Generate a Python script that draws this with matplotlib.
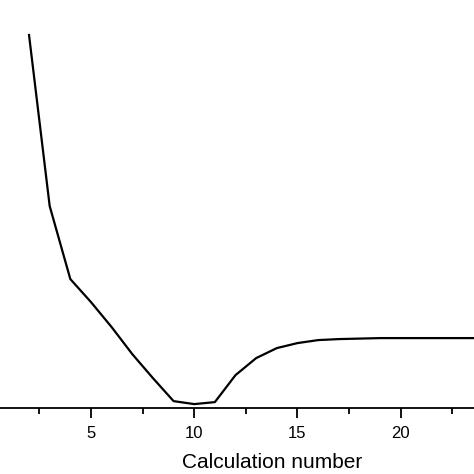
import matplotlib
matplotlib.use("Agg")
import matplotlib.pyplot as plt
from matplotlib.ticker import MultipleLocator

# Data (y in arbitrary units, no y scale shown)
calc_number = [2, 3, 4, 5, 6, 7, 8, 9, 10, 11, 12, 13, 14, 15, 16, 17, 18, 19, 20, 21, 22, 23, 24]
value = [373, 202, 129, 106, 81, 54, 30, 7, 4, 6, 33, 50, 60, 65, 68, 69, 69.5, 70, 70, 70, 70, 70, 70]
major_ticks = [5, 10, 15, 20]

plt.rcParams['font.family'] = ['Liberation Sans', 'DejaVu Sans']

fig = plt.figure(figsize=(4.74, 4.74), dpi=100)
ax = fig.add_axes([0, 0.139, 1, 0.861])

ax.plot(calc_number, value, color='black', lw=1.6)

ax.set_xlim(0.594, 23.55)
ax.set_ylim(0, 408)

ax.set_xticks(major_ticks)
ax.xaxis.set_minor_locator(MultipleLocator(2.5))
ax.tick_params(axis='x', which='major', direction='out', length=7, width=1.3, labelsize=12, pad=6)
ax.tick_params(axis='x', which='minor', direction='out', length=4.5, width=1.3)
ax.set_yticks([])

for side in ['top', 'left', 'right']:
    ax.spines[side].set_visible(False)
ax.spines['bottom'].set_linewidth(1.3)

# the label sits right of centre in the original
fig.text(272 / 474, 1 - 463 / 474, "Calculation number", fontsize=15,
         ha='center', va='center')

fig.savefig("out.png", dpi=100)
